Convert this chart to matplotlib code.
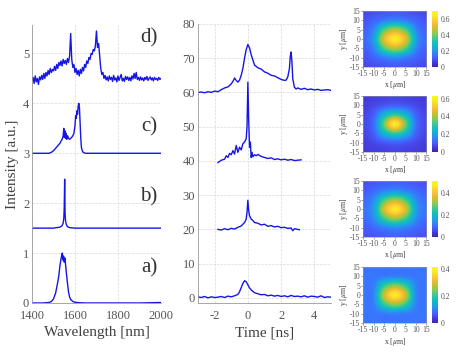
import numpy as np
import matplotlib
matplotlib.use("Agg")
import matplotlib.pyplot as plt
from matplotlib.colors import LinearSegmentedColormap

plt.rcParams['font.family'] = ['Liberation Serif', 'DejaVu Serif']
plt.rcParams['mathtext.fontset'] = 'stix'
plt.rcParams['axes.unicode_minus'] = False

# ---- spectra (left panel) ----
wl_a = [1400, 1450, 1480, 1490, 1500, 1510, 1520, 1525, 1530, 1535,
        1538, 1541, 1544, 1547, 1550, 1553, 1556, 1560, 1565, 1570,
        1575, 1580, 1590, 1600, 1620, 1650, 1700, 1800, 1900, 2000]
spec_a = [0, 0, 0.01, 0.03, 0.08, 0.2, 0.42, 0.55, 0.75, 0.88,
          0.95, 1.0, 0.86, 0.94, 0.82, 0.9, 0.78, 0.6, 0.4, 0.22,
          0.12, 0.07, 0.03, 0.015, 0.005, 0, 0, 0, 0, 0.01]

wl_b = [1400, 1500, 1530, 1540, 1545, 1548, 1550, 1551, 1552, 1553,
        1554, 1556, 1560, 1565, 1575, 1600, 1700, 2000]
spec_b = [1.5, 1.5, 1.52, 1.55, 1.6, 1.7, 1.9, 2.2, 2.48, 2.1,
          1.8, 1.65, 1.57, 1.53, 1.51, 1.5, 1.5, 1.5]

wl_c = [1400, 1480, 1490, 1500, 1510, 1520, 1530, 1540, 1545, 1548,
        1550, 1553, 1556, 1559, 1562, 1566, 1570, 1575, 1580, 1585,
        1590, 1595, 1600, 1603, 1606, 1609, 1612, 1615, 1618, 1621,
        1624, 1627, 1630, 1634, 1638, 1642, 1650, 1700, 2000]
spec_c = [3, 3, 3.02, 3.05, 3.1, 3.15, 3.2, 3.28, 3.35, 3.5,
          3.32, 3.45, 3.3, 3.4, 3.28, 3.35, 3.3, 3.28, 3.3, 3.32,
          3.35, 3.4, 3.55, 3.75, 3.7, 3.85, 3.78, 3.95, 4.0, 3.9,
          3.6, 3.3, 3.12, 3.05, 3.02, 3.01, 3, 3, 3]

wl_d = np.arange(1400, 2005, 5)
spec_d = [4.45, 4.52, 4.40, 4.55, 4.43, 4.50, 4.38, 4.53, 4.47, 4.56,
          4.48, 4.60, 4.50, 4.62, 4.55, 4.66, 4.58, 4.70, 4.62, 4.68,
          4.65, 4.74, 4.66, 4.78, 4.70, 4.82, 4.76, 4.85, 4.75, 4.88,
          4.80, 4.86, 4.78, 4.90, 4.82, 4.95, 5.40, 4.88, 4.72, 4.78,
          4.62, 4.70, 4.58, 4.66, 4.55, 4.68, 4.60, 4.72, 4.65, 4.78,
          4.72, 4.85, 4.80, 4.92, 4.88, 5.00, 4.98, 5.08, 5.05, 5.15,
          5.45, 5.12, 5.20, 4.95, 4.70, 4.58, 4.62, 4.50, 4.56, 4.47,
          4.53, 4.45, 4.55, 4.48, 4.52, 4.44, 4.56, 4.47, 4.51, 4.43,
          4.55, 4.46, 4.52, 4.58, 4.45, 4.50, 4.44, 4.54, 4.48, 4.53,
          4.46, 4.52, 4.45, 4.55, 4.49, 4.60, 4.50, 4.62, 4.48, 4.52,
          4.46, 4.53, 4.47, 4.51, 4.45, 4.52, 4.48, 4.54, 4.46, 4.50,
          4.53, 4.47, 4.51, 4.45, 4.52, 4.48, 4.50, 4.46, 4.52, 4.48,
          4.50]

spec_labels = ['a)', 'b)', 'c)', 'd)']
label_y = [0.7, 2.12, 3.52, 5.32]

# ---- time traces (middle panel) ----
t0 = [-3, -2.8, -2.6, -2.4, -2.2, -2, -1.8, -1.6, -1.4, -1.2, -1, -0.8, -0.6,
      -0.5, -0.4, -0.3, -0.2, -0.1, 0, 0.1, 0.2, 0.3, 0.4,
      0.6, 0.8, 1.0, 1.2, 1.4, 1.6, 1.8, 2.0, 2.2, 2.4, 2.6, 2.8, 3.0, 3.2,
      3.4, 3.6, 3.8, 4.0, 4.2, 4.4, 4.6, 4.8, 5.0]
p0 = [0.3, 0.1, 0.4, 0.0, 0.3, 0.1, 0.2, 0.4, 0.1, 0.5, 0.3, 0.6, 1.0,
      1.8, 3.0, 4.2, 5.0, 4.7, 3.8, 2.9, 2.3, 1.9, 1.5,
      1.2, 0.9, 1.0, 0.6, 0.8, 0.5, 0.7, 0.4, 0.6, 0.3, 0.7, 0.4, 0.5, 0.3,
      0.6, 0.2, 0.5, 0.4, 0.2, 0.6, 0.1, 0.3, 0.2]

t20 = [-1.8, -1.6, -1.4, -1.2, -1.0, -0.8, -0.6, -0.4,
       -0.3, -0.2, -0.1, -0.05, 0, 0.05, 0.1, 0.15, 0.2, 0.3, 0.4,
       0.6, 0.8, 1.0, 1.2, 1.4, 1.6, 1.8, 2.0, 2.2, 2.4, 2.6,
       2.7, 2.8, 2.9, 3.1]
p20 = [20.0, 19.8, 20.2, 19.9, 20.3, 20.1, 20.6, 21.0,
       21.5, 22.0, 23.0, 25.0, 28.5, 25.5, 24.0, 23.5, 23.0, 22.6, 22.0,
       21.8, 21.3, 21.5, 20.9, 21.1, 20.7, 20.9, 20.5, 20.6, 20.3, 20.4,
       19.6, 20.2, 20.1, 19.9]

t40 = [-1.8, -1.6, -1.4,
       -1.3, -1.2, -1.1, -1.0, -0.9, -0.8, -0.7, -0.6, -0.5, -0.4, -0.3, -0.2, -0.1,
       -0.05, 0, 0.05, 0.1, 0.15, 0.2, 0.25, 0.3,
       0.4, 0.5, 0.6,
       0.8, 1.0, 1.2, 1.4, 1.6, 1.8, 2.0, 2.2, 2.4, 2.6, 2.8, 3.0, 3.2]
p40 = [39.5, 40.2, 40.5,
       41.5, 41.0, 42.2, 41.8, 43.0, 42.0, 44.5, 42.5, 44.0, 43.2, 45.0, 45.5, 46.5,
       50.0, 63.0, 52.0, 44.0, 45.5, 41.0, 42.5, 41.2,
       41.8, 41.5, 41.9,
       41.3, 41.0, 40.7, 40.9, 40.4, 40.6, 40.3, 40.5, 40.2, 40.4, 40.1, 40.2, 40.3]

t60 = [-3, -2.8, -2.6, -2.4, -2.2, -2.0, -1.8, -1.6, -1.4, -1.2, -1.0,
       -0.9, -0.8, -0.7, -0.6, -0.5, -0.4, -0.3, -0.2, -0.1, 0, 0.1, 0.2, 0.3, 0.4,
       0.6, 0.8, 1.0, 1.2, 1.4, 1.6, 1.8, 2.0, 2.2,
       2.3, 2.4, 2.5, 2.55, 2.6, 2.65, 2.7, 2.8, 2.9, 3.0,
       3.2, 3.4, 3.6, 3.8, 4.0, 4.2, 4.4, 4.6, 4.8, 5.0]
p60 = [60.0, 60.1, 59.9, 60.2, 60.0, 60.4, 60.2, 60.8, 61.3, 61.6, 62.5,
       63.2, 64.2, 63.5, 63.0, 63.6, 65.0, 67.0, 70.0, 72.5, 74.0, 73.0, 71.0, 69.5, 68.0,
       67.2, 66.8, 66.0, 65.6, 65.0, 64.8, 64.3, 63.8, 63.5,
       63.6, 64.5, 67.0, 70.5, 71.8, 69.0, 64.0, 61.5, 61.0, 61.3,
       60.9, 61.2, 60.8, 61.0, 60.7, 60.9, 60.6, 60.7, 60.8, 60.6]

# ---- beam profiles (right column), values on a 5 um grid ----
grid_um = [-15, -10, -5, 0, 5, 10, 15]
beam_1 = [[0.075, 0.085, 0.095, 0.100, 0.095, 0.085, 0.075],
          [0.090, 0.120, 0.160, 0.185, 0.160, 0.120, 0.090],
          [0.110, 0.175, 0.370, 0.460, 0.370, 0.175, 0.110],
          [0.125, 0.215, 0.510, 0.650, 0.510, 0.215, 0.125],
          [0.110, 0.175, 0.370, 0.460, 0.370, 0.175, 0.110],
          [0.090, 0.120, 0.160, 0.185, 0.160, 0.120, 0.090],
          [0.075, 0.085, 0.095, 0.100, 0.095, 0.085, 0.075]]
beam_2 = [[0.050, 0.055, 0.060, 0.065, 0.060, 0.055, 0.050],
          [0.055, 0.070, 0.090, 0.105, 0.090, 0.070, 0.055],
          [0.065, 0.105, 0.240, 0.310, 0.240, 0.105, 0.065],
          [0.070, 0.125, 0.360, 0.590, 0.360, 0.125, 0.070],
          [0.065, 0.105, 0.240, 0.310, 0.240, 0.105, 0.065],
          [0.055, 0.070, 0.090, 0.105, 0.090, 0.070, 0.055],
          [0.050, 0.055, 0.060, 0.065, 0.060, 0.055, 0.050]]
beam_3 = [[0.065, 0.070, 0.080, 0.085, 0.080, 0.070, 0.065],
          [0.075, 0.095, 0.120, 0.135, 0.120, 0.095, 0.075],
          [0.095, 0.135, 0.260, 0.320, 0.260, 0.135, 0.095],
          [0.105, 0.155, 0.360, 0.470, 0.360, 0.155, 0.105],
          [0.095, 0.135, 0.260, 0.320, 0.260, 0.135, 0.095],
          [0.075, 0.095, 0.120, 0.135, 0.120, 0.095, 0.075],
          [0.065, 0.070, 0.080, 0.085, 0.080, 0.070, 0.065]]
beam_4 = [[0.088, 0.088, 0.089, 0.090, 0.089, 0.088, 0.088],
          [0.088, 0.089, 0.095, 0.100, 0.095, 0.089, 0.088],
          [0.090, 0.098, 0.200, 0.250, 0.200, 0.098, 0.090],
          [0.091, 0.103, 0.280, 0.380, 0.280, 0.103, 0.091],
          [0.090, 0.098, 0.200, 0.250, 0.200, 0.098, 0.090],
          [0.088, 0.089, 0.095, 0.100, 0.095, 0.089, 0.088],
          [0.088, 0.088, 0.089, 0.090, 0.089, 0.088, 0.088]]
beams = [beam_1, beam_2, beam_3, beam_4]
beam_vmax = [0.70, 0.63, 0.51, 0.41]
cbar_ticks = [[0, 0.2, 0.4, 0.6], [0, 0.2, 0.4, 0.6], [0, 0.2, 0.4], [0, 0.2, 0.4]]

# parula-like colormap
parula = LinearSegmentedColormap.from_list('parula', [
    (0.2422, 0.1504, 0.6603), (0.2706, 0.2147, 0.8364), (0.2795, 0.3447, 0.9717),
    (0.2206, 0.4603, 0.9973), (0.1540, 0.5902, 0.9218), (0.0689, 0.6948, 0.8394),
    (0.0964, 0.7500, 0.7120), (0.2161, 0.7843, 0.5923), (0.4456, 0.8024, 0.3909),
    (0.6720, 0.7793, 0.2227), (0.8634, 0.7406, 0.1596), (0.9956, 0.7434, 0.2371),
    (0.9786, 0.8386, 0.1766), (0.9628, 0.9373, 0.1265), (0.9769, 0.9839, 0.0805)])

tick_col = '#555555'
label_col = '#404040'
spine_col = '#999999'
line_col = '#1515e6'


def style_axes(ax):
    for s in ['top', 'right']:
        ax.spines[s].set_visible(False)
    for s in ['left', 'bottom']:
        ax.spines[s].set_color(spine_col)
        ax.spines[s].set_linewidth(0.6)
    ax.grid(True, linestyle='--', color='#d9d9d9', linewidth=0.5)
    ax.set_axisbelow(True)
    ax.tick_params(labelsize=9, colors=tick_col, length=0, pad=2)
    ax.tick_params(axis='x', pad=5)


fig = plt.figure(figsize=(4.74, 3.61), dpi=100)

# left: spectra
ax1 = fig.add_axes([0.0675, 0.1607, 0.272, 0.770])
for wl, sp in [(wl_a, spec_a), (wl_b, spec_b), (wl_c, spec_c), (wl_d, spec_d)]:
    ax1.plot(wl, sp, color=line_col, linewidth=1.0)
for lab, yy in zip(spec_labels, label_y):
    ax1.text(1945, yy, lab, fontsize=15, ha='center', va='center', color='#333333')
ax1.set_xlim(1400, 2000)
ax1.set_ylim(0, 5.57)
ax1.set_xticks([1400, 1600, 1800, 2000])
ax1.set_yticks([0, 1, 2, 3, 4, 5])
style_axes(ax1)
ax1.set_xlabel('Wavelength [nm]', fontsize=11, color=label_col, labelpad=3)
ax1.set_ylabel('Intensity [a.u.]', fontsize=11, color=label_col, labelpad=3)

# middle: time traces
ax2 = fig.add_axes([0.4177, 0.1607, 0.2806, 0.773])
for t, p in [(t0, p0), (t20, p20), (t40, p40), (t60, p60)]:
    ax2.plot(t, p, color=line_col, linewidth=1.0)
ax2.set_xlim(-3, 5)
ax2.set_ylim(-1.5, 80)
ax2.set_xticks([-2, 0, 2, 4])
ax2.set_yticks([0, 10, 20, 30, 40, 50, 60, 70, 80])
style_axes(ax2)
ax2.set_xlabel('Time [ns]', fontsize=11, color=label_col, labelpad=3)

# right: beam profiles
bottoms = [0.8144, 0.579, 0.3435, 0.105]
for beam, vmax, cticks, b in zip(beams, beam_vmax, cbar_ticks, bottoms):
    ax = fig.add_axes([0.766, b, 0.133, 0.155])
    im = ax.imshow(beam, cmap=parula, origin='lower', vmin=0, vmax=vmax,
                   extent=[-17.5, 17.5, -17.5, 17.5], interpolation='catrom',
                   aspect='auto')
    ax.set_xlim(-15, 15)
    ax.set_ylim(-15, 15)
    ax.set_xticks(grid_um)
    ax.set_yticks(grid_um)
    ax.tick_params(labelsize=5.5, colors=tick_col, length=1.2, width=0.4, pad=1)
    for s in ax.spines.values():
        s.set_color(spine_col)
        s.set_linewidth(0.4)
    ax.set_xlabel(r'x [$\mu$m]', fontsize=5.5, color=label_col, labelpad=1)
    ax.set_ylabel(r'y [$\mu$m]', fontsize=5.5, color=label_col, labelpad=0)
    cax = fig.add_axes([0.911, b, 0.0127, 0.155])
    cb = fig.colorbar(im, cax=cax, ticks=cticks)
    cb.outline.set_visible(False)
    cb.ax.tick_params(labelsize=5.5, colors=tick_col, length=0, pad=2)
    cb.ax.set_yticklabels([('%g' % v) for v in cticks])

fig.savefig('out.png', dpi=100)
